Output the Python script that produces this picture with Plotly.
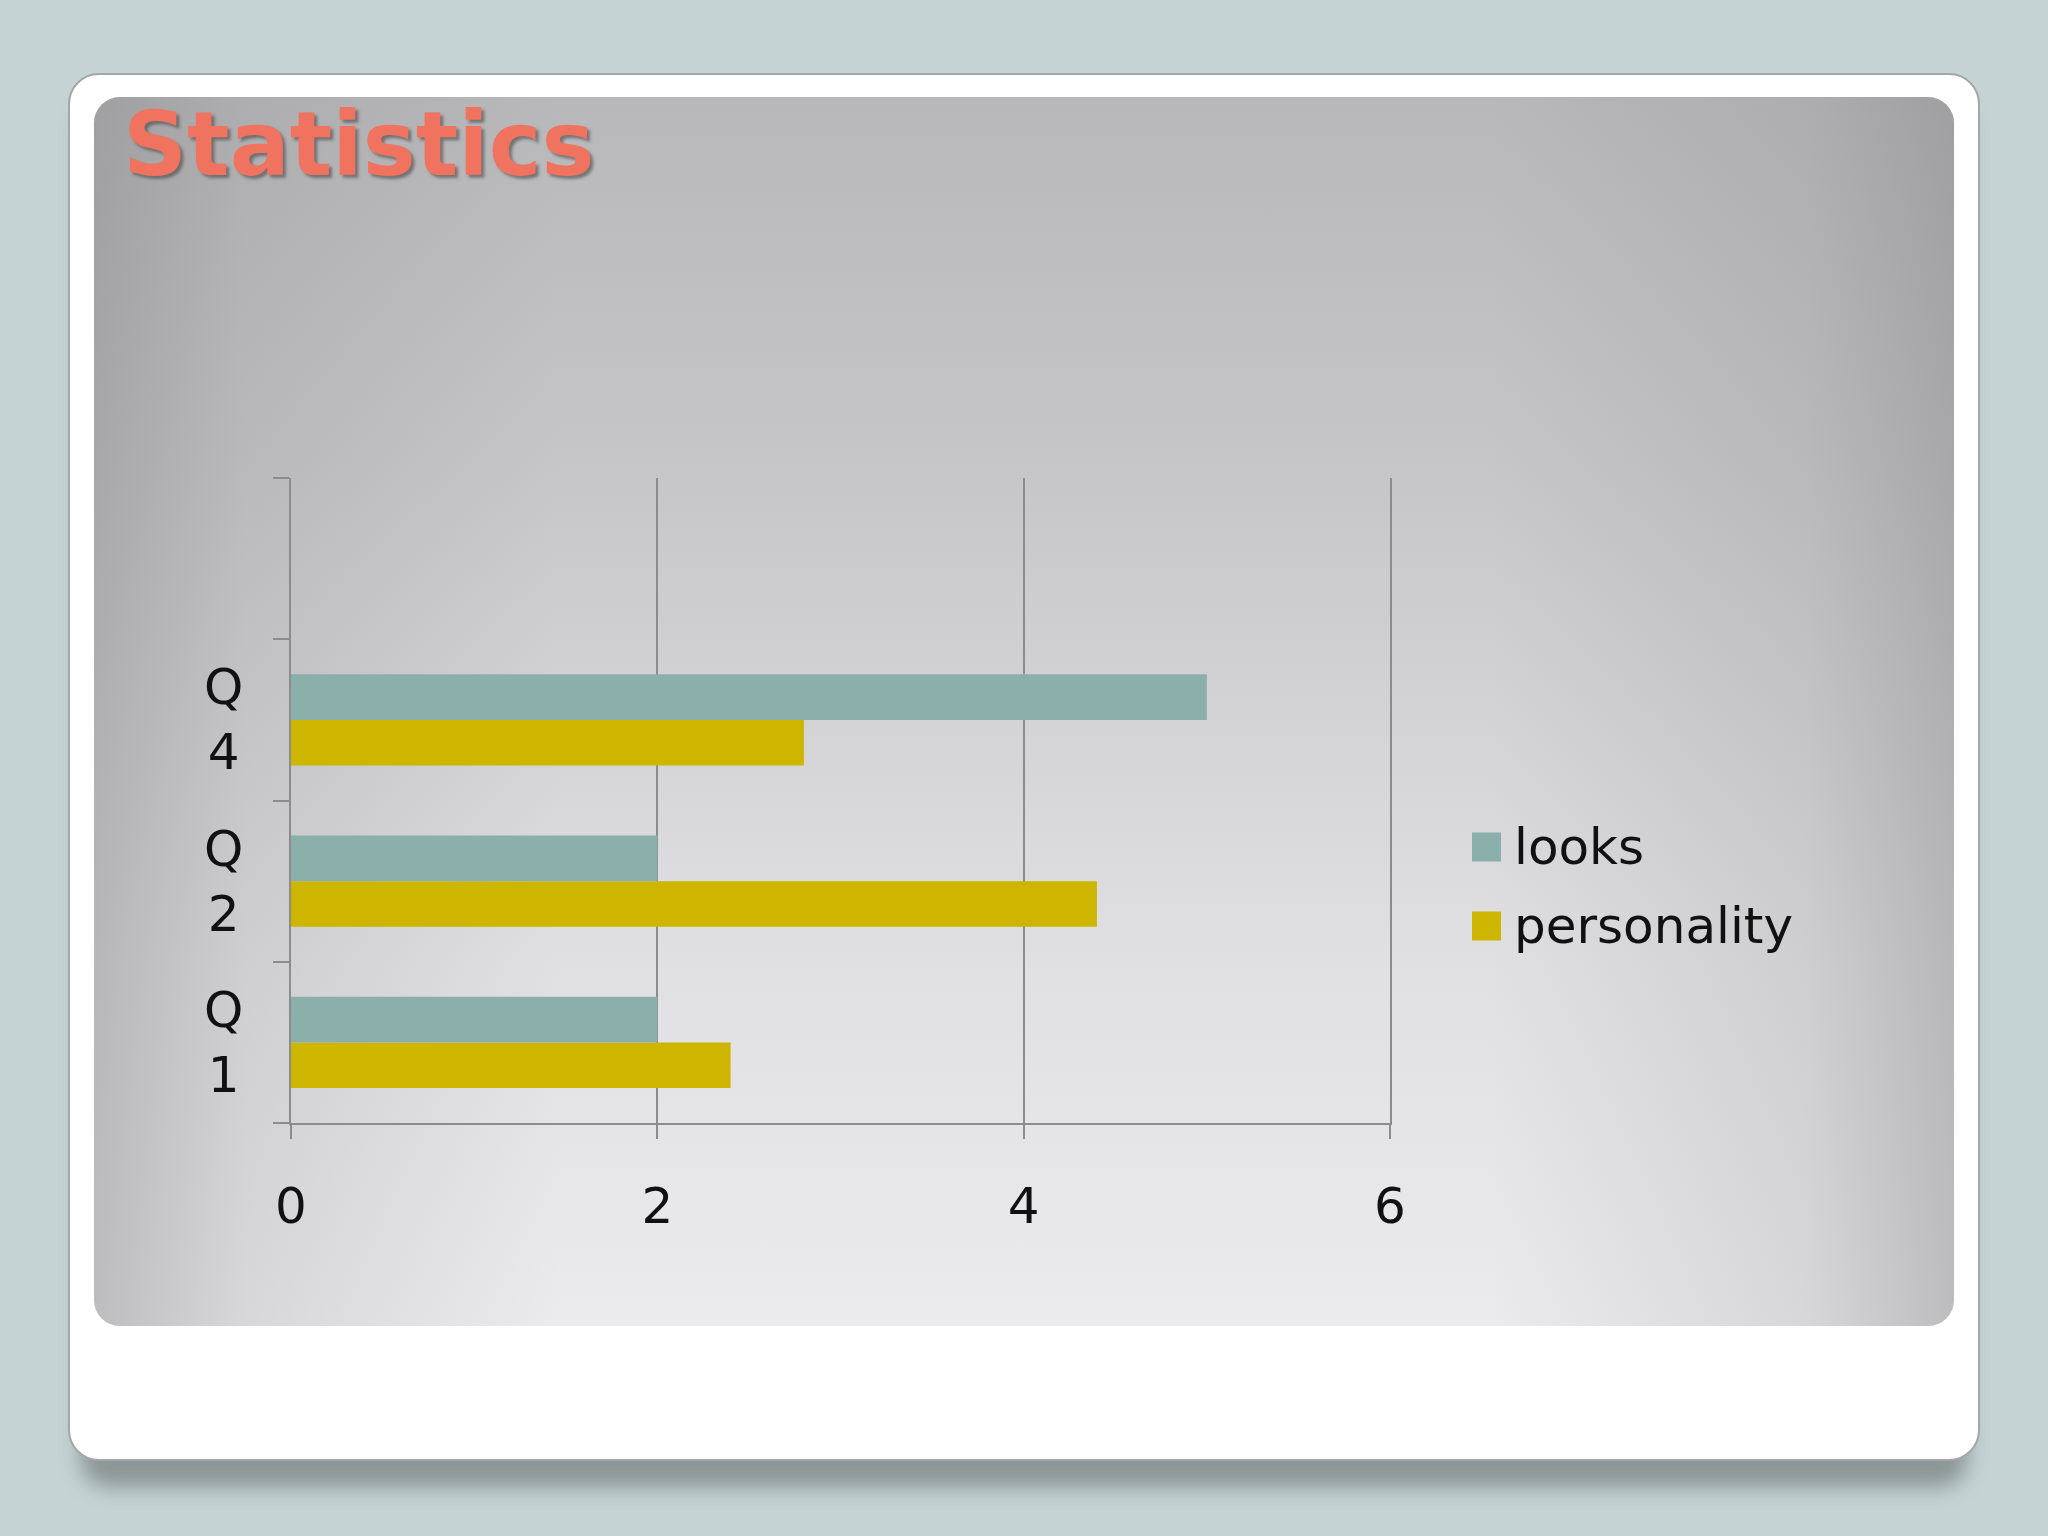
import base64
import plotly.graph_objects as go

# ---------------- data ----------------
categories = ["Q1", "Q2", "Q4"]
looks = [2, 2, 5]
personality = [2.4, 4.4, 2.8]
series_names = ["looks", "personality"]
x_tick_values = [0, 2, 4, 6]
title_text = "Statistics"

# ---------------- geometry / style ----------------
W, H = 2048, 1536
L, R, T, B = 291, 1390, 478, 1123   # plot area in pixels
PW, PH = R - L, B - T


def px(x):
    return (x - L) / PW


def py(y):
    return (B - y) / PH


LOOKS_C = "#8BAFAB"
PERS_C = "#CDB500"
AXIS_C = "#8C8C8C"
TITLE_C = "#F0735F"
FONT = "Verdana, DejaVu Sans, sans-serif"
FS = 50

svg = f'''<svg xmlns="http://www.w3.org/2000/svg" width="{W}" height="{H}" viewBox="0 0 {W} {H}">
<defs>
<linearGradient id="v" x1="0" y1="0" x2="0" y2="1">
<stop offset="0" stop-color="#B8B7BA"/>
<stop offset="0.3" stop-color="#C6C5C8"/>
<stop offset="0.7" stop-color="#E0DFE2"/>
<stop offset="1" stop-color="#EBEAED"/>
</linearGradient>
<linearGradient id="h" x1="0" y1="0" x2="1" y2="0">
<stop offset="0" stop-color="#7E7D80" stop-opacity="0.42"/>
<stop offset="0.08" stop-color="#7E7D80" stop-opacity="0.18"/>
<stop offset="0.25" stop-color="#7E7D80" stop-opacity="0"/>
<stop offset="0.75" stop-color="#7E7D80" stop-opacity="0"/>
<stop offset="0.92" stop-color="#7E7D80" stop-opacity="0.18"/>
<stop offset="1" stop-color="#7E7D80" stop-opacity="0.42"/>
</linearGradient>
<filter id="s" x="-5%" y="-5%" width="110%" height="115%"><feGaussianBlur stdDeviation="10"/></filter>
<clipPath id="c"><rect x="94" y="97" width="1860" height="1229" rx="26"/></clipPath>
</defs>
<rect width="{W}" height="{H}" fill="#C5D3D4"/>
<rect x="80" y="96" width="1888" height="1392" rx="30" fill="#5f6667" opacity="0.55" filter="url(#s)"/>
<rect x="69" y="74" width="1910" height="1386" rx="30" fill="#FFFFFF" stroke="#A3A7A8" stroke-width="2"/>
<g clip-path="url(#c)">
<rect x="94" y="97" width="1860" height="1229" fill="url(#v)"/>
<rect x="94" y="97" width="1860" height="1229" fill="url(#h)"/>
</g>
</svg>'''
svg_uri = "data:image/svg+xml;base64," + base64.b64encode(svg.encode()).decode()

y_pos = list(range(len(categories)))

fig = go.Figure()
# personality first so that it sits below looks inside each group
fig.add_trace(go.Bar(y=y_pos, x=personality, name=series_names[1], orientation="h",
                     marker=dict(color=PERS_C, line=dict(width=0)), showlegend=False))
fig.add_trace(go.Bar(y=y_pos, x=looks, name=series_names[0], orientation="h",
                     marker=dict(color=LOOKS_C, line=dict(width=0)), showlegend=False))

annotations = []
# category labels (stacked "Q" over number)
for i, c in enumerate(categories):
    annotations.append(dict(x=px(223), xref="paper", y=i, yref="y",
                            text=c[0] + "<br>" + c[1:], showarrow=False,
                            xanchor="center", yanchor="middle", align="center",
                            font=dict(family=FONT, size=FS, color="#111111")))

# title
annotations.append(dict(x=px(121), xref="paper", y=py(144), yref="paper",
                        text="<b>" + title_text + "</b>", showarrow=False,
                        xanchor="left", yanchor="middle",
                        font=dict(family="DejaVu Sans, Verdana, sans-serif", size=89, color=TITLE_C,
                                  shadow="3px 3px 3px rgba(60,60,60,0.55)")))

# legend (manual, large swatches)
legend_rows = [(series_names[0], LOOKS_C, 847), (series_names[1], PERS_C, 926)]
shapes = []
for name, col, cy in legend_rows:
    shapes.append(dict(type="rect", xref="paper", yref="paper",
                       x0=px(1472), x1=px(1501), y0=py(cy - 14.5), y1=py(cy + 14.5),
                       fillcolor=col, line=dict(width=0)))
    annotations.append(dict(x=px(1512), xref="paper", y=py(cy), yref="paper",
                            text=name, showarrow=False, xanchor="left", yanchor="middle",
                            font=dict(family=FONT, size=FS, color="#111111")))

fig.update_layout(
    width=W, height=H,
    margin=dict(l=L, r=W - R, t=T, b=H - B, pad=0),
    paper_bgcolor="rgba(0,0,0,0)",
    plot_bgcolor="rgba(0,0,0,0)",
    barmode="group", bargap=0.433, bargroupgap=0,
    showlegend=False,
    images=[dict(source=svg_uri, xref="paper", yref="paper",
                 x=px(0), y=py(0), sizex=W / PW, sizey=H / PH,
                 xanchor="left", yanchor="top", sizing="stretch", layer="below")],
    annotations=annotations,
    shapes=shapes,
    xaxis=dict(range=[0, 6], tickvals=x_tick_values, ticktext=[str(v) for v in x_tick_values],
               showgrid=True, gridcolor=AXIS_C, gridwidth=2,
               showline=True, linecolor=AXIS_C, linewidth=2,
               ticks="outside", ticklen=14, tickwidth=2, tickcolor=AXIS_C,
               ticklabelstandoff=24, zeroline=False,
               tickfont=dict(family=FONT, size=FS, color="#111111")),
    yaxis=dict(range=[-0.5, 3.5], tickvals=[-0.5, 0.5, 1.5, 2.5, 3.5],
               showticklabels=False, showgrid=False, zeroline=False,
               showline=True, mirror=True, linecolor=AXIS_C, linewidth=2,
               ticks="outside", ticklen=16, tickwidth=2, tickcolor=AXIS_C),
)

fig.write_html("out.html",
               config={"displayModeBar": False},
               post_script="document.body.style.margin='0';document.body.style.background='#C5D3D4';")
